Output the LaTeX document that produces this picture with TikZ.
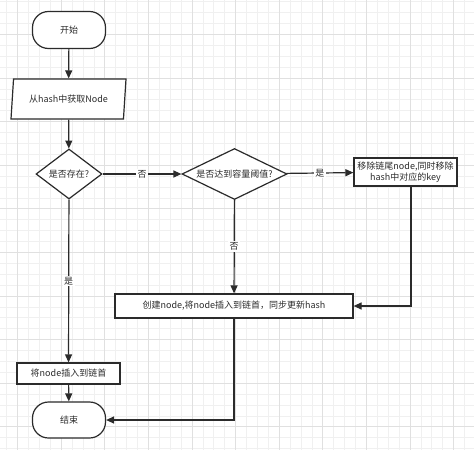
\documentclass[tikz,border=0pt]{standalone}
\usepackage{fontspec}
\setmainfont{Noto Sans CJK SC}
\usepackage{tikz}
\usetikzlibrary{shapes.geometric,arrows.meta}

\definecolor{linegray}{HTML}{2B2B2B}
\definecolor{minorgray}{HTML}{F0F0F0}
\definecolor{majorgray}{HTML}{E0E0E0}

\begin{document}
\begin{tikzpicture}[x=1pt, y=-1pt,
        every node/.style={font=\fontsize{9}{11}\selectfont, text=linegray},
        flowline/.style={draw=linegray, line width=1.2pt, -{Triangle[length=8pt,width=7pt]}},
        terminal/.style={draw=linegray, line width=1.2pt, fill=white, rectangle, rounded corners=16pt, minimum width=73pt, minimum height=37pt},
        inputbox/.style={draw=linegray, line width=1.2pt, fill=white, trapezium, trapezium left angle=73, trapezium right angle=107, trapezium stretches body, minimum width=115pt, minimum height=40pt, inner sep=0pt},
        decision/.style={draw=linegray, line width=1.2pt, fill=white, diamond, inner sep=0pt},
        process/.style={draw=linegray, line width=1.2pt, fill=white, rectangle, inner sep=0pt},
        edgelabel/.style={fill=white, inner sep=1.5pt}]
        \useasboundingbox (0,0) rectangle (474,450);
        % background grid
        \fill[white] (0,0) rectangle (474,450);
        \foreach \i in {-1,...,42}
          \draw[minorgray, line width=0.6pt] ({17.5+\i*10.9},0) -- ({17.5+\i*10.9},450);
        \foreach \i in {-3,...,38}
          \draw[minorgray, line width=0.6pt] (0,{34.3+\i*10.9}) -- (474,{34.3+\i*10.9});
        \foreach \i in {0,...,10}
          \draw[majorgray, line width=0.8pt] ({17.5+\i*43.6},0) -- ({17.5+\i*43.6},450);
        \foreach \i in {-1,...,9}
          \draw[majorgray, line width=0.8pt] (0,{34.3+\i*43.6}) -- (474,{34.3+\i*43.6});

        % nodes
        \node[terminal] (start) at (69,30) {开始};
        \node[inputbox] (fetch) at (68.5,99) {从hash中获取Node};
        \node[decision, minimum width=66pt, minimum height=50pt] (exists) at (69,174) {\makebox[0pt]{是否存在?}};
        \node[decision, minimum width=105pt, minimum height=51pt] (full) at (234.5,174) {\makebox[0pt]{是否达到容量阈值?}};
        \node[process, minimum width=103pt, minimum height=28pt, align=center] (evict) at (405.5,172)
          {移除链尾node,同时移除\\hash中对应的key};
        \node[process, minimum width=238pt, minimum height=24pt] (create) at (234,306)
          {创建node,将node插入到链首，同步更新hash};
        \node[process, minimum width=103pt, minimum height=21pt] (move) at (68.5,373.5) {将node插入到链首};
        \node[terminal, minimum height=36pt] (stop) at (69,420) {结束};

        % connectors
        \draw[flowline] (start) -- (fetch);
        \draw[flowline] (fetch) -- (exists);
        \draw[flowline] (exists) -- node[edgelabel] {否} (full);
        \draw[flowline] (full) -- node[edgelabel] {是} (evict);
        \draw[flowline] ([xshift=5.5pt]evict.south) |- (create.east);
        \draw[flowline] (full) -- node[edgelabel] {否} (create);
        \draw[flowline] (exists) -- node[edgelabel] {是} (move);
        \draw[flowline] (move) -- (stop);
        \draw[flowline] (create.south) |- (stop.east);
\end{tikzpicture}
\end{document}
